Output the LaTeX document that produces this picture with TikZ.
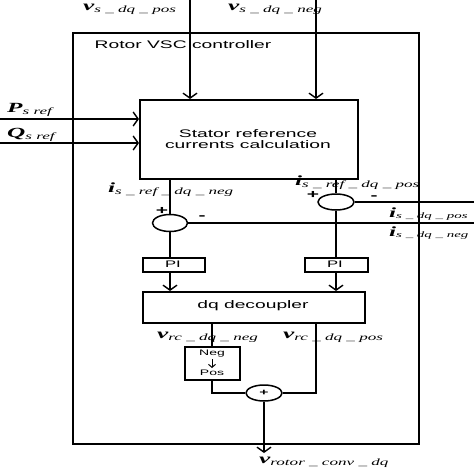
\documentclass[tikz,border=0pt]{standalone}
\usepackage{fontspec}
\setmainfont{Liberation Sans}[FakeStretch=1.75]
\newfontfamily\labfont{Liberation Serif}[FakeStretch=1.8]
\usetikzlibrary{arrows.meta,shapes.geometric}
\newcommand\sig[3][9.5]{{\labfont\fontsize{14}{14}\selectfont\bfseries\itshape #2}{\labfont\fontsize{#1}{10}\selectfont\itshape\raisebox{-0.45ex}{#3}}}
\begin{document}
\begin{tikzpicture}[x=1pt,y=-1pt,
  ln/.style={line width=1.5pt},
  arr/.style={ln,-{Straight Barb[length=5pt,width=14pt,line width=1.4pt]}},
  blk/.style={draw,line width=1.5pt,inner sep=0pt,anchor=north west},
  sumc/.style={draw,line width=1.5pt,ellipse,inner sep=0pt,minimum width=35pt,minimum height=17pt},
  lab/.style={inner sep=0pt,anchor=west},
  sgn/.style={inner sep=0pt,font=\fontsize{12}{12}\selectfont\bfseries}]
\useasboundingbox (0,0) rectangle (474,471);
% outer box
\draw[line width=1.5pt] (73,33) rectangle (419,444);
\node[inner sep=0pt] (title) at (183,45) {\fontsize{11}{12}\selectfont Rotor VSC controller};
% stator block
\node[blk,minimum width=218pt,minimum height=79pt] (stator) at (139,99) {};
\node[inner sep=0pt,align=center,font=\fontsize{11}{11.5}\selectfont] (statxt) at (248,139) {Stator reference\\currents calculation};
% voltage inputs
\coordinate (vpin) at (190,0);
\coordinate (vnin) at (316,0);
\coordinate (vpend) at (190,99);
\coordinate (vnend) at (316,99);
\draw[arr] (vpin) -- (vpend);
\draw[arr] (vnin) -- (vnend);
\node[lab] (vplab) at (83,9) {\sig{v}{s \_ dq \_ pos}};
\node[lab] (vnlab) at (228,9) {\sig{v}{s \_ dq \_ neg}};
% P, Q inputs
\coordinate (pin) at (0,119);
\coordinate (qin) at (0,143);
\coordinate (pend) at (139,119);
\coordinate (qend) at (139,143);
\draw[arr] (pin) -- (pend);
\draw[arr] (qin) -- (qend);
\node[lab] (plab) at (7,110) {\sig{P}{s ref}};
\node[lab] (qlab) at (7,135) {\sig{Q}{s ref}};
% sum circles
\node[sumc] (c1) at (170,223) {};
\node[sumc,minimum width=36pt,minimum height=16pt] (c2) at (336,202) {};
\coordinate (s1) at (170,178);
\coordinate (s2) at (336,178);
\draw[ln] (s1) -- (c1.north);
\draw[ln] (s2) -- (c2.north);
\node[lab] (irn) at (108,190) {\sig{i}{s \_ ref \_ dq \_ neg}};
\node[lab] (irp) at (295,183) {\sig{i}{s \_ ref \_ dq \_ pos}};
\node[sgn] (p1) at (162,211) {+};
\node[sgn] (m1) at (202,218) {-};
\node[sgn] (p2) at (313,195) {+};
\node[sgn] (m2) at (374,198) {-};
% feedback
\coordinate (fbp) at (474,202);
\coordinate (fbn) at (474,223);
\draw[ln] (c2.east) -- (fbp);
\draw[ln] (c1.east) -- (fbn);
\node[lab] (isp) at (389,214) {\sig[8.3]{i}{s \_ dq \_ pos}};
\node[lab] (isn) at (389,233) {\sig[8.3]{i}{s \_ dq \_ neg}};
% PI blocks
\node[blk,minimum width=62pt,minimum height=14pt] (pi1) at (142,257) {};
\node[blk,minimum width=63pt,minimum height=14pt] (pi2) at (304,257) {};
\node[inner sep=0pt,font=\fontsize{9.5}{10}\selectfont] (pi1t) at (173,264) {PI};
\node[inner sep=0pt,font=\fontsize{9.5}{10}\selectfont] (pi2t) at (335,264) {PI};
\coordinate (pi1top) at (170,257);
\coordinate (pi2top) at (336,257);
\coordinate (pi1bot) at (170,271);
\coordinate (pi2bot) at (336,271);
\draw[ln] (c1.south) -- (pi1top);
\draw[ln] (c2.south) -- (pi2top);
% decoupler
\node[blk,minimum width=222pt,minimum height=31pt] (dec) at (142,291) {};
\node[inner sep=0pt,font=\fontsize{11}{12}\selectfont] (dect) at (253,306) {dq decoupler};
\coordinate (d1) at (170,291);
\coordinate (d2) at (336,291);
\draw[arr] (pi1bot) -- (d1);
\draw[arr] (pi2bot) -- (d2);
% outputs of decoupler
\node[lab] (vrn) at (157,337) {\sig{v}{rc \_ dq \_ neg}};
\node[lab] (vrp) at (283,337) {\sig{v}{rc \_ dq \_ pos}};
\node[blk,minimum width=55pt,minimum height=33pt] (negpos) at (184,346) {};
\node[inner sep=0pt,font=\fontsize{8}{8}\selectfont] (negt) at (212,354) {Neg};
\node[inner sep=0pt,font=\fontsize{8}{8}\selectfont] (post) at (212,372.5) {Pos};
\coordinate (na) at (212,359);
\coordinate (nb) at (212,368);
\draw[line width=1pt,-{Straight Barb[length=3pt,width=7pt,line width=1pt]}] (na) -- (nb);
\coordinate (dl) at (212,322);
\coordinate (dr) at (316,322);
\coordinate (nt) at (212,346);
\coordinate (nbot) at (212,379);
\draw[ln] (dl) -- (nt);
\node[sumc,minimum width=36pt,minimum height=16pt] (c3) at (264,393) {};
\node[sgn,font=\fontsize{9}{9}\selectfont\bfseries] (c3t) at (264,393) {+};
\draw[ln] (nbot) |- (c3.west);
\draw[ln] (dr) |- (c3.east);
\coordinate (outend) at (264,453);
\draw[arr] (c3.south) -- (outend);
\node[lab] (vout) at (259,462) {\sig{v}{rotor \_ conv \_ dq}};
\end{tikzpicture}
\end{document}
